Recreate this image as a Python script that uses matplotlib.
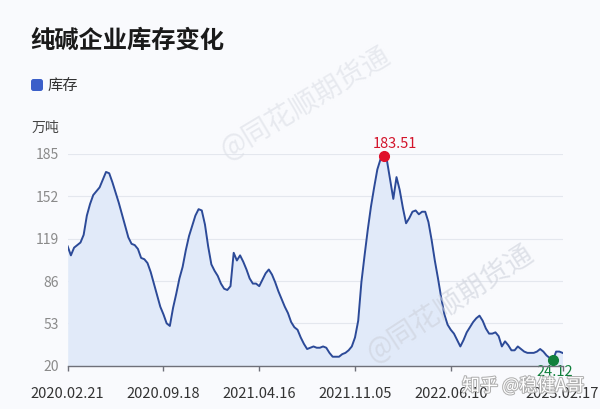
import matplotlib
matplotlib.use("Agg")
import matplotlib.pyplot as plt
from matplotlib.patches import FancyBboxPatch
import matplotlib.patheffects as pe
import numpy as np

plt.rcParams['font.family'] = ['Noto Sans CJK SC', 'DejaVu Sans']

title = "纯碱企业库存变化"
series_name = "库存"
unit = "万吨"
tick_labels = ["2020.02.21", "2020.09.18", "2021.04.16", "2021.11.05", "2022.06.10", "2023.02.17"]
tick_index = [0, 30, 60, 90, 120, 155]
y_ticks = [20, 53, 86, 119, 152, 185]

inventory = [
    113, 106, 112, 114, 116, 122, 137, 146, 153, 156,
    159, 165, 171, 170, 163, 155, 147, 138, 129, 120,
    115, 114, 111, 104, 103, 100, 93, 84, 75, 66,
    60, 53, 51, 65, 76, 88, 97, 110, 121, 129,
    137, 142, 141, 130, 113, 99, 94, 90, 84, 80,
    79, 82, 108, 102, 106, 101, 95, 88, 84, 84,
    82, 87, 92, 95, 91, 85, 78, 72, 66, 61,
    54, 50, 48, 42, 37, 33, 34, 35, 34, 34,
    35, 34, 30, 27, 27, 27, 29, 30, 32, 35,
    42, 55, 85, 106, 126, 144, 159, 173, 181, 183.51,
    180, 165, 150, 167, 157, 143, 131, 135, 140, 141,
    138, 140, 140, 132, 118, 102, 88, 73, 60, 52,
    48, 45, 40, 35, 40, 46, 50, 54, 57, 59,
    55, 49, 45, 45, 46, 43, 35, 39, 36, 32,
    32, 35, 33, 31, 30, 30, 30, 31, 33, 31,
    28, 26, 24.12, 31, 31, 30,
]

W, H = 600, 409
fig = plt.figure(figsize=(W / 100, H / 100), dpi=100)
fig.patch.set_facecolor('#f9fafd')

left, right, top, bottom = 67.7, 562.5, 154.0, 365.7
ax = fig.add_axes([left / W, 1 - bottom / H, (right - left) / W, (bottom - top) / H])
ax.set_facecolor('none')

x = np.arange(len(inventory))
y = np.array(inventory, dtype=float)
ymin, ymax = y_ticks[0], y_ticks[-1]

ax.fill_between(x, y, ymin, color='#e1eaf9', zorder=1, lw=0)
ax.plot(x, y, color='#2c4a98', lw=1.4, zorder=3, solid_joinstyle='round')

ax.set_xlim(0, len(inventory) - 1)
ax.set_ylim(ymin, ymax)
ax.set_yticks(y_ticks)
ax.set_yticklabels([str(v) for v in y_ticks])
ax.set_xticks(tick_index)
ax.set_xticklabels(tick_labels)
for v in y_ticks[1:]:
    ax.axhline(v, color='#e4e7ee', lw=0.8, zorder=0)

for s in ['top', 'right', 'left']:
    ax.spines[s].set_visible(False)
ax.spines['bottom'].set_color('#6e7079')
ax.spines['bottom'].set_linewidth(1.0)
ax.spines['bottom'].set_zorder(4)
ax.tick_params(axis='y', length=0, pad=6, labelsize=10, labelcolor='#8a8a8a')
ax.tick_params(axis='x', length=3.5, width=1, color='#6e7079', pad=11.5, labelsize=10.5, labelcolor='#333333')

# peak and min markers
imax = int(np.argmax(y))
imin = int(np.argmin(y))
ax.plot([imax], [y[imax]], 'o', color='#e0102a', ms=7, zorder=5, clip_on=False)
ax.annotate(f"{y[imax]:.2f}", (imax, y[imax]), xytext=(11, 5), textcoords='offset pixels',
            ha='center', va='bottom', color='#d3142b', fontsize=10.5, annotation_clip=False)
ax.plot([imin], [y[imin]], 'o', color='#11803c', ms=7, zorder=5, clip_on=False)
ax.annotate(f"{y[imin]:.2f}", (imin, y[imin]), xytext=(2, -5), textcoords='offset pixels',
            ha='center', va='top', color='#11803c', fontsize=10.5, annotation_clip=False)

# title, legend, unit
fig.text(30 / W, 1 - 41 / H, title, fontsize=17.5, fontweight='bold', color='#1a1a1a', va='center', ha='left')
fig.add_artist(FancyBboxPatch((31, H - 91), 12, 12, boxstyle="round,pad=0,rounding_size=2.5",
                              transform=None, facecolor='#3b5fc9', edgecolor='none'))
fig.text(48 / W, 1 - 85 / H, series_name, fontsize=11, color='#333333', va='center', ha='left')
fig.text(32 / W, 1 - 127.5 / H, unit, fontsize=10, color='#444444', va='center', ha='left')

# watermarks
wm = "@同花顺期货通"
fig.text(305 / W, 1 - 103 / H, wm, fontsize=20, color='#dcdfe6', alpha=0.6, rotation=31,
         ha='center', va='center', zorder=0)
fig.text(450 / W, 1 - 303 / H, wm, fontsize=20, color='#cdd1db', alpha=0.6, rotation=33,
         ha='center', va='center', zorder=6)
fig.text(523 / W, 1 - 386 / H, "知乎 @稳健A哥", fontsize=13, color='white', ha='center', va='center',
         path_effects=[pe.withStroke(linewidth=1.5, foreground='#b0b0b0')], zorder=7)

fig.savefig("out.png", dpi=100, facecolor=fig.get_facecolor())
